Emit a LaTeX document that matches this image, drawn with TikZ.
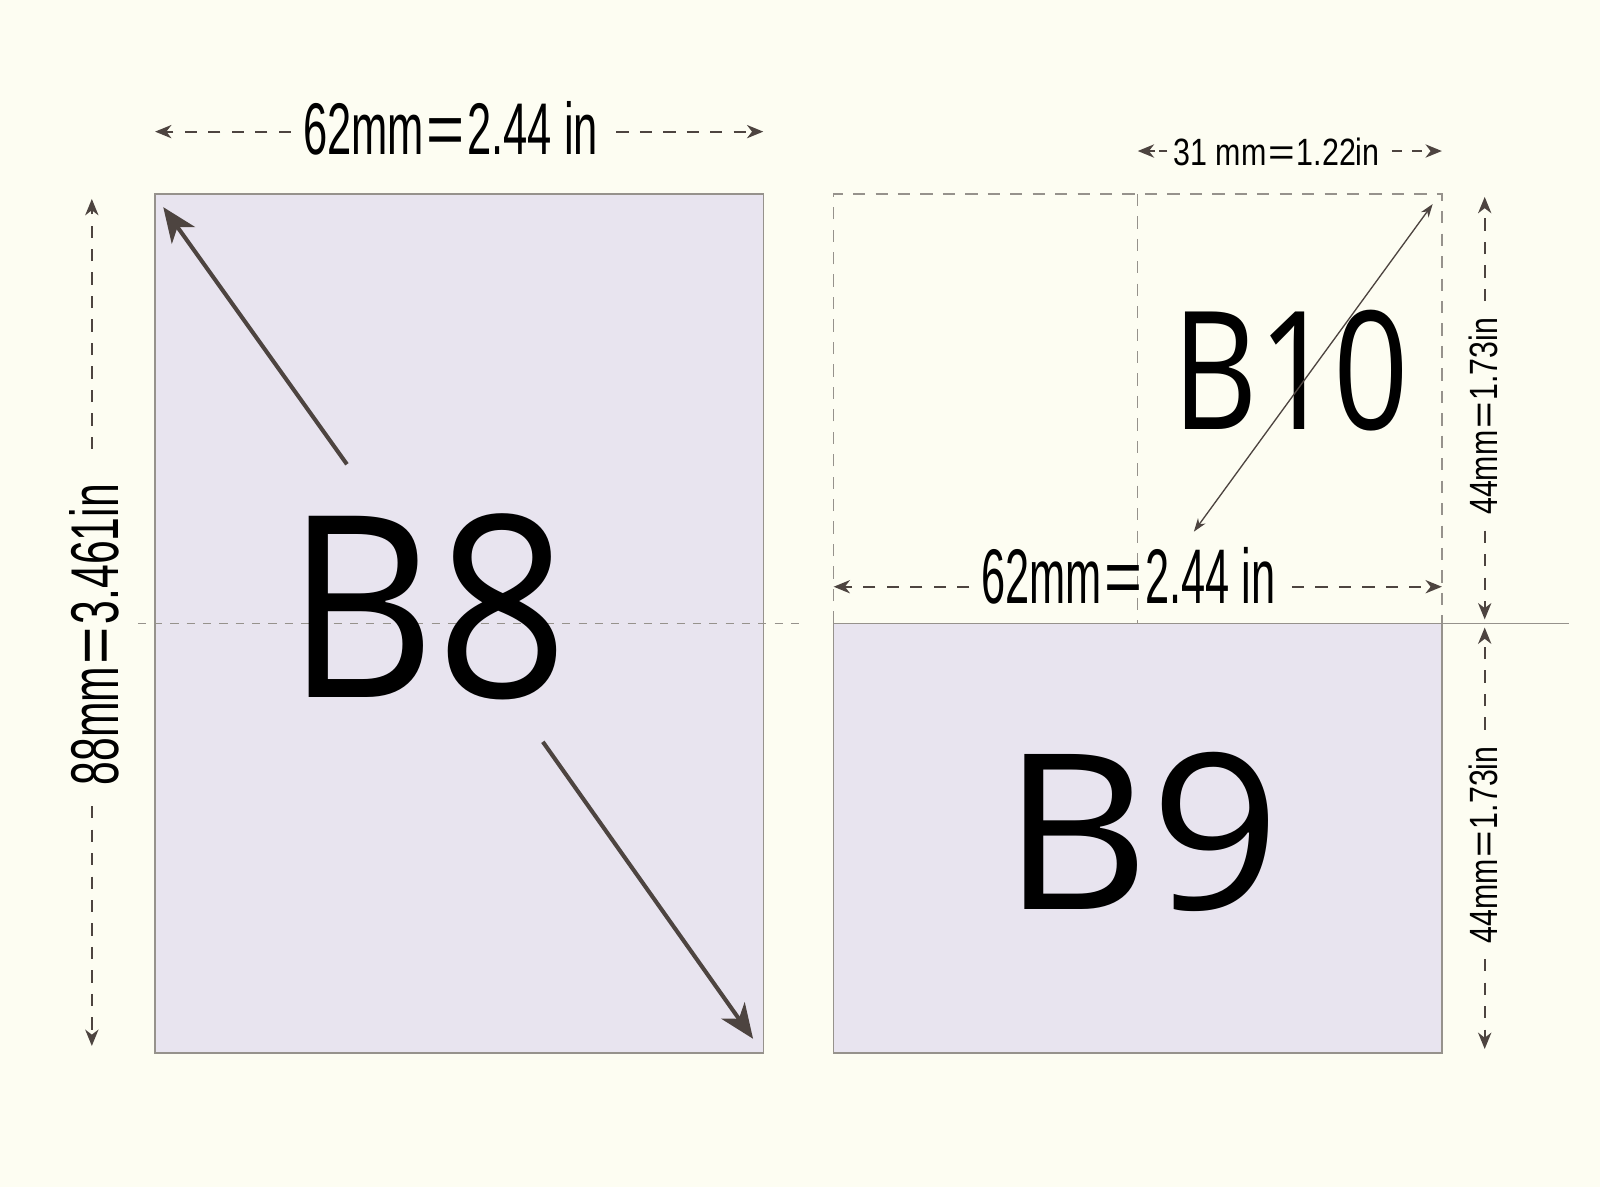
\documentclass[tikz,border=0pt]{standalone}
\usepackage{graphicx}
\usepackage{fontspec}
\setmainfont{Liberation Sans}
\newfontfamily\bigfont{Open Sans}
\usetikzlibrary{arrows.meta}
\definecolor{bg}{RGB}{253,253,242}
\definecolor{paper}{RGB}{232,228,239}
\definecolor{ink}{RGB}{77,68,64}
\definecolor{guide}{RGB}{150,146,140}
\newcommand\eq{\kern0.06em\scalebox{1.5}[1]{=}\kern0.06em}
\begin{document}
\begin{tikzpicture}[x=1pt,y=-1pt,
  dimline/.style={ink,line width=2pt,dash pattern=on 12pt off 11pt},
  dimtip/.style={-{Stealth[length=16pt,width=13pt,inset=5pt]}},
  bigtip/.style={ink,line width=4pt,-{Stealth[length=34pt,width=28pt,inset=10pt]}},
  thintip/.style={ink,line width=1.3pt,{Stealth[length=13pt,width=9pt,inset=4pt]}-{Stealth[length=13pt,width=9pt,inset=4pt]}},
  lbl/.style={inner sep=0pt,outer sep=0pt,text=black},
  sheet/.style={fill=paper,draw=guide,line width=1.3pt},
  guideline/.style={draw=guide,line width=1.3pt,dash pattern=on 12pt off 10pt},
  fineguide/.style={draw=guide,line width=1pt,dash pattern=on 8pt off 8pt},
]
\useasboundingbox (0,0) rectangle (1568,1163.3);
\fill[bg] (0,0) rectangle (1568,1163.3);

% sheets
\path[sheet] (152,190) rectangle (748,1032);
\path[sheet] (817,611) rectangle (1413,1032);
% B10 guide area
\draw[guideline] (817,611) -- (817,190) -- (1413,190) -- (1413,611);
\draw[guideline] (1115,190) -- (1115,611);
% horizontal mid lines
\draw[fineguide] (135,611) -- (790,611);
\draw[draw=guide,line width=1.2pt] (1413,611) -- (1538,611);

% big labels
\node[lbl] (b8) at (419,595) {\resizebox{276pt}{180pt}{\bigfont B8}};
\node[lbl] (b9) at (1118.5,815) {\resizebox{272pt}{154pt}{\bigfont B9}};
\node[lbl] (b10) at (1265,363.5) {\resizebox{232pt}{117pt}{\bigfont B10}};

% B8 arrows
\coordinate (a1s) at (340,455);
\coordinate (a1e) at (160,203);
\coordinate (a2s) at (532,727);
\coordinate (a2e) at (738,1018);
\draw[bigtip] (a1s) -- (a1e);
\draw[bigtip] (a2s) -- (a2e);

% B10 diagonal
\coordinate (d1) at (1170,521);
\coordinate (d2) at (1404,200);
\draw[thintip] (d1) -- (d2);

% top dimension of B8
\node[lbl] (ttop) at (441.5,126) {\resizebox{289pt}{52pt}{62mm\eq2.44 in}};
\coordinate (tl) at (152,129);
\coordinate (tr) at (748,129);
\draw[dimline,dimtip] ([xshift=-12pt]ttop.west |- tl) -- (tl);
\draw[dimline,dimtip] ([xshift=18pt]ttop.east |- tr) -- (tr);

% B10 top dimension
\node[lbl] (tb10) at (1251,149) {\resizebox{202pt}{27pt}{31 mm\eq1.22in}};
\coordinate (sl) at (1115,148);
\coordinate (sr) at (1413,148);
\draw[dimline,dimtip,dash pattern=on 8pt off 4pt] ([xshift=-6pt]tb10.west |- sl) -- (sl);
\draw[dimline,dimtip,dash pattern=on 10pt off 10pt] ([xshift=12pt]tb10.east |- sr) -- (sr);

% middle dimension
\node[lbl] (tmid) at (1106,564.5) {\resizebox{288pt}{55pt}{62mm\eq2.44 in}};
\coordinate (ml) at (817,575);
\coordinate (mr) at (1413,575);
\draw[dimline,dimtip] ([xshift=-12pt]tmid.west |- ml) -- (ml);
\draw[dimline,dimtip] ([xshift=16pt]tmid.east |- mr) -- (mr);

% left vertical dimension
\node[lbl,rotate=90] (tleft) at (92,622) {\resizebox{295pt}{48pt}{88mm\eq3.461in}};
\coordinate (lt) at (90,195);
\coordinate (lb) at (90,1025);
\draw[dimline,dimtip] (lt |- 0,440) -- (lt);
\draw[dimline,dimtip] (lb |- 0,790) -- (lb);

% right vertical dimensions
\node[lbl,rotate=90] (tr1) at (1454,408) {\resizebox{193pt}{28pt}{44mm\eq1.73in}};
\node[lbl,rotate=90] (tr2) at (1454,828) {\resizebox{193pt}{28pt}{44mm\eq1.73in}};
\coordinate (r1t) at (1455,193);
\coordinate (r1b) at (1455,607);
\coordinate (r2t) at (1455,615);
\coordinate (r2b) at (1455,1028);
\draw[dimline,dimtip] (r1t |- 0,295) -- (r1t);
\draw[dimline,dimtip] (r1b |- 0,520) -- (r1b);
\draw[dimline,dimtip] (r2t |- 0,715) -- (r2t);
\draw[dimline,dimtip] (r2b |- 0,940) -- (r2b);
\end{tikzpicture}
\end{document}
